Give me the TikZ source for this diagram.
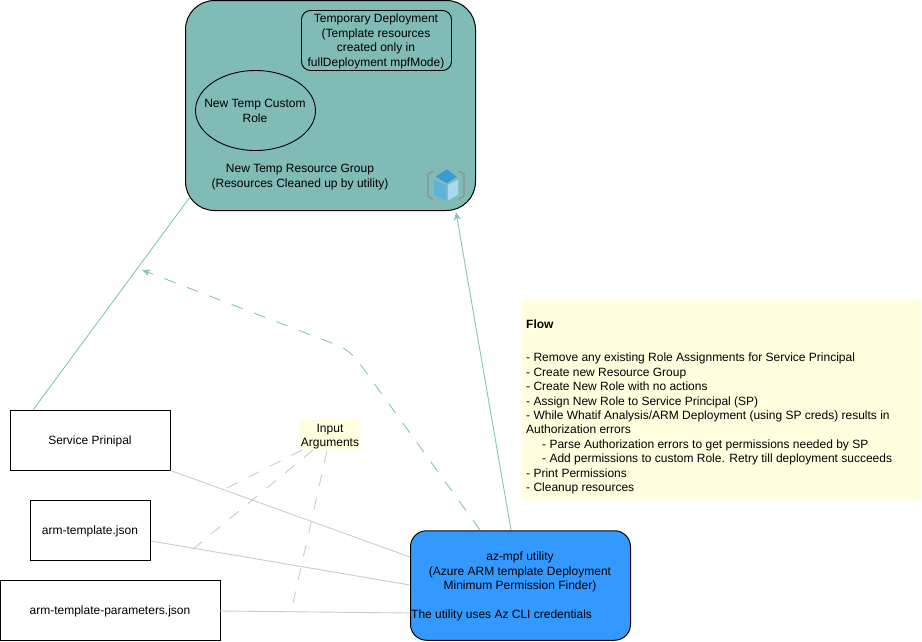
\documentclass[tikz,border=0pt]{standalone}
\usepackage{fontspec}
\setmainfont{Liberation Sans}
\usetikzlibrary{shapes.geometric,arrows.meta}
\definecolor{tealfill}{HTML}{80BBB5}
\definecolor{tealline}{HTML}{87C4BE}
\definecolor{greyline}{HTML}{CCCCCC}
\definecolor{bluefill}{HTML}{3399FF}
\definecolor{notefill}{HTML}{FFFFE0}
\definecolor{cubetop}{HTML}{3A9BD0}
\definecolor{cubeleft}{HTML}{5CB4DE}
\definecolor{cuberight}{HTML}{A9D8EE}
\definecolor{bracket}{HTML}{8F8F92}
\tikzset{
  x=1pt,y=-1pt,
  txt/.style={font=\fontsize{12}{14.5}\selectfont,align=center,text=black},
  plainbox/.style={draw=black,line width=1pt,fill=white,minimum width=#1,minimum height=60pt,inner sep=0pt},
  notebox/.style={fill=notefill,inner sep=0pt},
  solidteal/.style={draw=tealline,line width=0.9pt},
  dashteal/.style={draw=tealline,line width=0.9pt,dash pattern=on 12pt off 12pt},
  greyconn/.style={draw=greyline,line width=0.9pt},
  greydash/.style={draw=greyline,line width=0.9pt,dash pattern=on 12pt off 12pt},
  tealtip/.style={-{Stealth[length=8pt,width=7pt,inset=2pt]}},
}
\begin{document}
\begin{tikzpicture}
\useasboundingbox (0,0) rectangle (922,641);
\fill[white] (0,0) rectangle (922,641);

% resource group
\node[draw=black,line width=1pt,fill=tealfill,rounded corners=29pt,minimum width=290pt,minimum height=210pt,inner sep=0pt] (rg) at (330.5,105.5) {};
\node[draw=black,line width=0.9pt,rounded corners=9pt,minimum width=150pt,minimum height=60pt,inner sep=0pt] (temp) at (376.5,40.5) {};
\node[txt] (templabel) at (376,41.5) {Temporary Deployment\\(Template resources\\created only in\\fullDeployment mpfMode)};
\node[draw=black,line width=0.9pt,ellipse,minimum width=120pt,minimum height=80pt,inner sep=0pt] (role) at (255.5,110.5) {};
\node[txt] (rolelabel) at (255,111) {New Temp Custom\\Role};
\node[txt] (rglabel) at (300,177) {New Temp Resource Group\\(Resources Cleaned up by utility)};

% icon
\draw[bracket,line width=1.4pt] (432.7,171) -- (428,174) -- (428,196) -- (432.7,199.3);
\draw[bracket,line width=1.4pt] (458.5,171) -- (464,174) -- (464,196) -- (458.5,199.3);
\fill[cubetop] (446.7,169.3) -- (456.7,176.7) -- (446.7,183.3) -- (435.7,176.7) -- cycle;
\fill[cubeleft] (434,180) -- (446,185) -- (446,200.7) -- (434,195) -- cycle;
\fill[cuberight] (448,185) -- (458.3,179.3) -- (458.3,194.3) -- (448,200.7) -- cycle;

% source boxes
\node[plainbox=160pt] (sp) at (90,440) {};
\node[txt] (splabel) at (90,441) {Service Prinipal};
\node[plainbox=120pt] (arm) at (90,530) {};
\node[txt] (armlabel) at (90,531) {arm-template.json};
\node[plainbox=220pt] (params) at (110,610) {};
\node[txt] (paramslabel) at (110,611) {arm-template-parameters.json};

% utility
\node[draw=black,line width=1pt,fill=bluefill,rounded corners=16pt,minimum width=220pt,minimum height=109.5pt,inner sep=0pt] (mpf) at (520.5,585.5) {};
\node[txt] (mpflabel) at (520,572) {az-mpf utility\\(Azure ARM template Deployment\\Minimum Permission Finder)};
\node[txt,anchor=west,inner sep=0pt] (mpfnote) at (411,615) {The utility uses Az CLI credentials};

% notes
\node[notebox,minimum width=60pt,minimum height=30pt] (input) at (330,435) {};
\node[txt] (inputlabel) at (330,436.5) {Input\\Arguments};
\node[notebox,minimum width=399pt,minimum height=200pt,anchor=north west] (flow) at (522,300) {};
\node[anchor=north west,inner sep=0pt,font=\fontsize{12}{14.4}\selectfont,align=left] (flowtext) at (526,319.5) {\textbf{Flow}\\[19pt]
- Remove any existing Role Assignments for Service Principal\\
- Create new Resource Group\\
- Create New Role with no actions\\
- Assign New Role to Service Principal (SP)\\
- While Whatif Analysis/ARM Deployment (using SP creds) results in\\
Authorization errors\\
\hspace{16pt}- Parse Authorization errors to get permissions needed by SP\\
\hspace{16pt}- Add permissions to custom Role. Retry till deployment succeeds\\
- Print Permissions\\
- Cleanup resources};

% connector end points
\coordinate (rgfoot) at (190,197);
\coordinate (spfoot) at (33,410);
\coordinate (mpftopa) at (511,530);
\coordinate (rgtip) at (456,212);
\coordinate (mpftopb) at (480,530);
\coordinate (bend) at (350,350);
\coordinate (freetip) at (142,270);
\coordinate (mpfa) at (410,557);
\coordinate (mpfb) at (410,585);
\coordinate (mpfc) at (410,613);
\coordinate (armend) at (151,541);
\coordinate (paramsend) at (220,611);
\coordinate (inputa) at (302,450);
\coordinate (inputb) at (313,450);
\coordinate (inputc) at (327,451);
\coordinate (dasha) at (225,489);
\coordinate (dashb) at (193,549);
\coordinate (dashc) at (293,603);

% connectors
\draw[solidteal] (rgfoot) -- (spfoot);
\draw[solidteal,tealtip] (mpftopa) -- (rgtip);
\draw[dashteal,tealtip,rounded corners=14pt] (mpftopb) -- (bend) -- (freetip);
\draw[greyconn] (sp.south east) -- (mpfa);
\draw[greyconn] (armend) -- (mpfb);
\draw[greyconn] (paramsend) -- (mpfc);
\draw[greydash] (inputa) -- (dasha);
\draw[greydash] (inputb) -- (dashb);
\draw[greydash] (inputc) -- (dashc);
\end{tikzpicture}
\end{document}
